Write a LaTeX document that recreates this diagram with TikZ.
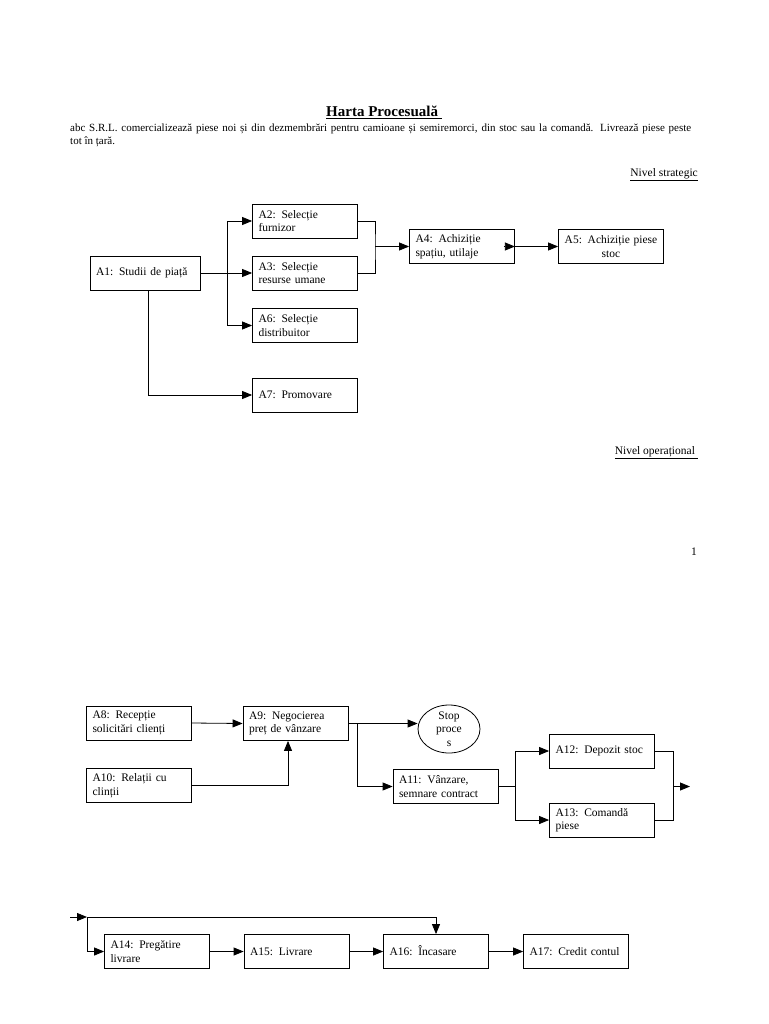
\documentclass[tikz,border=0pt]{standalone}
\usepackage{fontspec}
\setmainfont{Liberation Serif}
\usetikzlibrary{shapes.geometric,arrows.meta}

\begin{document}
\begin{tikzpicture}[x=1pt,y=-1pt,
    font=\fontsize{11.5}{13.5}\selectfont,
    >={Triangle[length=10pt,width=8pt]},
    conn/.style={->,line width=0.8pt},
    merge/.style={line width=0.8pt},
    act/.style={draw,line width=0.8pt,minimum width=105pt,minimum height=34pt,
        text width=93pt,inner xsep=6pt,align=left}]
\useasboundingbox (0,0) rectangle (768,1024);

% heading of the page
\node (title) at (384,112) {\fontsize{15}{17}\selectfont\bfseries\underline{Harta Procesuală\ }};
\node[anchor=north west,inner sep=0pt,text width=621pt,align=justify,font=\fontsize{11}{13}\selectfont] (intro) at (70,124)
    {abc S.R.L. comercializează piese noi și din dezmembrări pentru camioane și semiremorci, din stoc sau la comandă. Livrează piese peste\linebreak tot în țară.};
\node[anchor=east,inner sep=0pt] (strat) at (698,175) {\underline{Nivel strategic}};

% strategic level
\node[act,minimum width=110pt,text width=98pt] (A1) at (145,273) {A1: Studii de piață};
\node[act] (A2) at (305,221)   {A2: Selecție\\furnizor};
\node[act] (A3) at (305,273)   {A3: Selecție\\resurse umane};
\node[act] (A6) at (305,325.5) {A6: Selecție\\distribuitor};
\node[act] (A7) at (305,395)   {A7: Promovare};
\node[act] (A4) at (462,246.5) {A4: Achiziție\\spațiu, utilaje};
\node[act,align=center] (A5) at (611,246.5) {A5: Achiziție piese\\stoc};

\draw[conn] (A1.east) -- (A3.west);
\draw[conn] (A1.east) ++(27,0) |- (A2.west);
\draw[conn] (A1.east) ++(27,0) |- (A6.west);
\draw[conn] ([xshift=3pt]A1.south) |- (A7.west);

% A2 and A3 lead to A4
\coordinate (m1) at (375,246.5);
\draw[merge] (A2.east) -| (m1) |- (A3.east);
\draw[conn] (m1) -- (A4.west);
\draw[conn] ([xshift=-11pt]A4.east) -- (A4.east);
\draw[conn] (A4.east) -- (A5.west);

% operational level
\node[anchor=east,inner sep=0pt] (oper) at (698,453) {\underline{Nivel operațional\ }};
\node[inner sep=0pt] (page) at (694,552) {1};

\node[act] (A8)  at (139,723)     {A8: Recepție\\solicitări clienți};
\node[act] (A9)  at (295.5,723.5) {A9: Negocierea\\preț de vânzare};
\node[act] (A10) at (139,785.5)   {A10: Relații cu\\clinții};
\node[act] (A11) at (445.5,786.5) {A11: Vânzare,\\semnare contract};
\node[act] (A12) at (602,751)     {A12: Depozit stoc};
\node[act] (A13) at (602,820)     {A13: Comandă\\piese};
\node[draw,ellipse,line width=0.8pt,minimum width=62pt,minimum height=48pt,inner sep=0pt] (stop) at (449,729) {};
\node[align=center] (stoptext) at (stop) {Stop\\proce\\s};

\draw[conn] (A8.east) -- (A9.west);
\draw[conn] (A9.east) -- (A9.east -| stop.west);
\draw[conn] (A9.east) ++(9,0) |- (A11.west);
\draw[conn] (A10.east) -| ([xshift=-7.5pt]A9.south);
\draw[conn] (A11.east) -- ++(17,0) |- (A12.west);
\draw[conn] (A11.east) ++(17,0) |- (A13.west);

% A12 and A13 go on
\coordinate (m2) at (673,786.5);
\coordinate (out) at (690,786.5);
\draw[merge] (A12.east) -| (m2) |- (A13.east);
\draw[conn] (m2) -- (out);

% delivery row
\coordinate (in) at (70,917);
\coordinate (j) at (87,917);
\node[act] (A14) at (157,951.5) {A14: Pregătire\\livrare};
\node[act] (A15) at (296.5,951.5) {A15: Livrare};
\node[act] (A16) at (436,951.5) {A16: \smash{Î}ncasare};
\node[act] (A17) at (576,951.5) {A17: Credit contul};

\draw[conn] (in) -- (j);
\draw[conn] (j) |- (A14.west);
\draw[conn] (j) -| (A16.north);
\draw[conn] (A14.east) -- (A15.west);
\draw[conn] (A15.east) -- (A16.west);
\draw[conn] (A16.east) -- (A17.west);

\end{tikzpicture}
\end{document}
